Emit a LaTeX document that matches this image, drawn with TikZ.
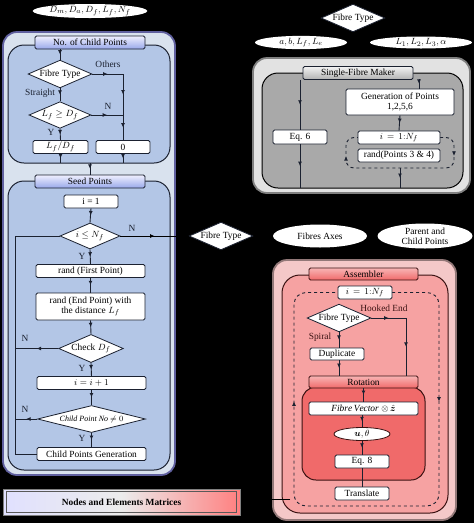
\documentclass[tikz,border=0pt]{standalone}
\usepackage{amsmath,amssymb,bm}
\usepackage{fontspec}
\setmainfont{Liberation Serif}
\usepackage{xcolor}
\usetikzlibrary{arrows.meta, shapes.geometric, positioning, calc, decorations.markings}

\definecolor{linec}{HTML}{1B2130}
\definecolor{blueout}{HTML}{D9E2EE}
\definecolor{bluein}{HTML}{B3C6E6}
\definecolor{grayout}{HTML}{E2E2E2}
\definecolor{grayin}{HTML}{A9A9A9}
\definecolor{pinkout}{HTML}{F4C8C8}
\definecolor{pinkin}{HTML}{F6A2A2}
\definecolor{redin}{HTML}{F06A6A}
\definecolor{darkred}{HTML}{3A1212}

\tikzset{
  midarr/.style={postaction={decorate,decoration={markings,
      mark=at position 0.5 with {\arrow{Latex[length=4.5pt,width=4pt]}}}}},
  loopmarks/.style 2 args={postaction={decorate,decoration={markings,
      mark=at position #1 with {\arrow{Latex[length=4.5pt,width=4pt]}},
      mark=at position #2 with {\arrow{Latex[length=4.5pt,width=4pt]}}}}},
  link/.style={draw=linec, line width=0.9},
  dashloop/.style={draw=linec, line width=0.9, dashed, rounded corners=8},
  box/.style={draw=linec, fill=white, rounded corners=1.5, line width=0.8,
      minimum height=13, inner sep=1},
  decision/.style={shape=diamond, draw=linec, fill=white, line width=0.8,
      inner sep=0.5, aspect=2.3},
  inell/.style={ellipse, fill=white, inner sep=0},
  titlebar/.style={draw=linec, line width=0.8, rounded corners=1.5,
      minimum height=13, minimum width=110, inner sep=0},
  bluebar/.style={titlebar, top color=blue!6!white, bottom color=bluein!85!blue},
  graybar/.style={titlebar, top color=white!95!black, bottom color=grayin!90!white},
  pinkbar/.style={titlebar, draw=darkred, top color=pinkin!80!white, bottom color=redin},
  outerbox/.style={line width=1.8, rounded corners=14},
  innerbox/.style={line width=1, rounded corners=16},
  lbl/.style={inner sep=1, text=linec}
}

\begin{document}
\begin{tikzpicture}[x=1pt, y=-1pt, font=\fontsize{9.4}{10}\selectfont]

  \fill[black] (0,0) rectangle (474,523);
  \useasboundingbox (0,0) rectangle (474,523);

  % inputs
  \node[inell, minimum width=106, minimum height=14] (inputs) at (90,11) {$D_m, D_a, D_f, L_f, N_f$};
  \node[decision, minimum width=54, minimum height=27] (fttop) at (353,18) {Fibre Type};
  \node[inell, minimum width=92, minimum height=12] (abpar) at (301,42.5) {$a, b, L_f, L_e$};
  \node[inell, minimum width=102, minimum height=12] (lpar) at (421,42.5) {$L_1, L_2, L_3, \alpha$};

  % left block
  \draw[outerbox, draw=gray!75!blue, fill=blueout] (3,32) rectangle (175,475);
  \draw[innerbox, draw=linec, fill=bluein] (8,45) rectangle (170,163);
  \draw[innerbox, draw=linec, fill=bluein] (8,181) rectangle (170,470);

  \node[bluebar] (childtitle) at (90,42.5) {No. of Child Points};
  \node[decision, minimum width=62, minimum height=26] (ftchild) at (60,74) {Fibre Type};
  \node[decision, minimum width=62, minimum height=26] (lfdiam) at (60,115) {$L_f \geq D_f$};
  \node[box, minimum width=55] (lfdf) at (60.5,147) {$L_f/D_f$};
  \node[box, minimum width=54] (zero) at (123,147) {0};
  \coordinate (childbot) at (90,163);

  \node[lbl] at (108,64) {Others};
  \node[lbl] at (40,93) {Straight};
  \node[lbl] at (108,106) {N};
  \node[lbl] at (51,132) {Y};

  \draw[link, midarr] (childtitle.south -| ftchild.north) -- (ftchild.north);
  \draw[link, midarr] (ftchild.south) -- (lfdiam.north);
  \draw[link, midarr] (lfdiam.south) -- (lfdf.north);
  \draw[link, midarr] (ftchild.east) -- (ftchild.east -| zero.north);
  \draw[link, midarr] (ftchild.east -| zero.north) -- (lfdiam.east -| zero.north);
  \draw[link, midarr] (lfdiam.east -| zero.north) -- (zero.north);
  \draw[link, midarr] (lfdiam.east) -- (lfdiam.east -| zero.north);
  \draw[link, midarr] (lfdf.south) -- (lfdf.south |- childbot);
  \draw[link, midarr] (zero.south) -- (zero.south |- childbot);

  \node[bluebar] (seedtitle) at (90,181.5) {Seed Points};
  \draw[link, midarr] (childbot) -- (seedtitle.north);

  \node[box, minimum width=54] (ione) at (91,201.5) {i = 1};
  \node[decision, minimum width=60, minimum height=26] (idiam) at (90,236) {$i \leq N_f$};
  \node[box, minimum width=109] (firstp) at (90.5,271) {rand (First Point)};
  \node[box, minimum width=109, minimum height=27, align=center] (endp) at (90.5,306.5)
      {rand (End Point) with\\ the distance $L_f$};
  \node[decision, minimum width=62, minimum height=27] (checkd) at (91,348.5) {Check $D_f$};
  \node[box, minimum width=109] (incr) at (91.5,383) {$i = i + 1$};
  \node[decision, minimum width=108, minimum height=27, aspect=4, inner sep=0,
      font=\fontsize{8}{9}\selectfont\itshape] (childno) at (91.5,419) {Child Point No $\neq 0$};
  \node[box, minimum width=109] (childgen) at (91.5,454) {Child Points Generation};
  \coordinate (loopbot) at (15,454);
  \coordinate (looptop) at (15,236);

  \node[lbl] at (82,256) {Y};
  \node[lbl] at (82,368) {Y};
  \node[lbl] at (82,438) {Y};
  \node[lbl] at (132,228) {N};
  \node[lbl] at (25,338) {N};
  \node[lbl] at (25,409) {N};

  \draw[link, midarr] (ione.south) -- (idiam.north);
  \draw[link, midarr] (idiam.south) -- (firstp.north);
  \draw[link, midarr] (firstp.south) -- (endp.north);
  \draw[link, midarr] (endp.south) -- (checkd.north);
  \draw[link, midarr] (checkd.south) -- (incr.north);
  \draw[link, midarr] (incr.south) -- (childno.north);
  \draw[link, midarr] (childno.south) -- (childgen.north);
  \draw[link, midarr] (checkd.west) -- (checkd.west -| looptop);
  \draw[link, midarr] (childno.west) -- (childno.west -| looptop);
  \draw[link] (childgen.west) -- (loopbot) -- (looptop) -- (idiam.west);

  % middle
  \node[decision, minimum width=58, minimum height=27] (ftmid) at (221,236) {Fibre Type};
  \node[inell, minimum width=94, minimum height=23] (axes) at (320,236) {Fibres Axes};
  \node[inell, minimum width=95, minimum height=25, align=center] (parents) at (425,236)
      {Parent and\\ Child Points};
  \draw[link, draw=black, midarr] (idiam.east) -- (ftmid.west);

  % single-fibre maker
  \draw[outerbox, draw=gray, fill=grayout] (253,58) rectangle (470,193);
  \draw[innerbox, draw=black, fill=grayin] (262,73) rectangle (463,188);
  \node[graybar] (sfm) at (358,73) {Single-Fibre Maker};
  \node[box, minimum width=54, minimum height=14] (eqsix) at (300,137) {Eq. 6};
  \node[box, minimum width=108, minimum height=26, align=center] (genp) at (400,102)
      {Generation of Points\\ 1,2,5,6};
  \coordinate (sfmbot) at (358,188);
  \coordinate (sfmright) at (419,79);
  \coordinate (sfmloop) at (400,168);

  \draw[dashloop, loopmarks={0.16}{0.85}] (440,137.5) -- (454,137.5) -- (454,168)
      -- (346,168) -- (346,137.5) -- (358,137.5);
  \node[box, minimum width=82] (iloop) at (399,137.5) {$i\,=\,1{:}N_f$};
  \node[box, minimum width=82] (randp) at (399,155.5) {rand(Points 3 \& 4)};

  \draw[link, midarr] (sfm.south -| eqsix.north) -- (eqsix.north);
  \draw[link, midarr] (eqsix.south) -- (eqsix.south |- sfmbot);
  \draw[link, midarr] (sfmright) -- (sfmright |- genp.north);
  \draw[link, midarr] (genp.south) -- (iloop.north);
  \draw[link, midarr] (sfmloop) -- (sfmloop |- sfmbot);

  % assembler
  \draw[outerbox, draw=pinkout!60!black, fill=pinkout] (273,260) rectangle (456,520);
  \draw[innerbox, rounded corners=18, draw=darkred, fill=pinkin] (282,275) rectangle (448,513);
  \node[pinkbar, minimum width=109, minimum height=12] (asm) at (363.5,274) {Assembler};
  \draw[dashloop, rounded corners=12, loopmarks={0.235}{0.77}] (392,292.5) -- (439,292.5)
      -- (439,506) -- (294,506) -- (294,292.5) -- (338,292.5);
  \node[box, minimum width=54] (aloop) at (365,292.5) {$i\,=\,1{:}N_f$};
  \node[decision, minimum width=62, minimum height=27] (ftasm) at (339,318) {Fibre Type};
  \node[box, minimum width=54, minimum height=12] (dupl) at (337,354) {Duplicate};
  \coordinate (hooked) at (406,318);

  \draw[innerbox, rounded corners=14, draw=darkred, fill=redin] (302,387) rectangle (425,480);
  \node[pinkbar, minimum width=109, minimum height=12] (rot) at (363.5,382) {Rotation};
  \node[box, minimum width=109] (fvec) at (363.5,408.5)
      {$\mathit{Fibre\,Vector}\;{\otimes}\,\bm{\hat{z}}$};
  \node[inell, draw=darkred, line width=0.8, minimum width=56, minimum height=13] (uth)
      at (362,434) {$\bm u, \theta$};
  \node[box, minimum width=54] (eqeight) at (362,461.5) {Eq. 8};
  \node[box, minimum width=54] (transl) at (362,493.5) {Translate};
  \coordinate (asmin) at (290,499);

  \node[lbl, text=darkred] at (384,308) {Hooked End};
  \node[lbl, text=darkred] at (320,337) {Spiral};

  \draw[link, midarr] (ftasm.east) -- (hooked);
  \draw[link, midarr] (hooked) -- (hooked |- rot.north);
  \draw[link, midarr] (ftasm.south) -- (ftasm.south |- dupl.north);
  \draw[link, midarr] (ftasm.south |- dupl.south) -- (ftasm.south |- rot.north);
  \draw[link, midarr] (rot.south) -- (rot.south |- fvec.north);
  \draw[link, midarr] (fvec.south -| uth.north) -- (uth.north);
  \draw[link, midarr] (uth.south) -- (eqeight.north);
  \draw[link] (eqeight.south) -- (transl.north);

  % output
  \node[draw=gray, line width=1, minimum width=237, minimum height=26, inner sep=0,
      left color=blue!12!white, right color=red!50!white, middle color=gray!15!white]
      (mats) at (121.5,502) {\textbf{Nodes and Elements Matrices}};
  \draw[gray!70!black, line width=0.6] ([shift={(4,3)}]mats.north west)
      rectangle ([shift={(-4,-3)}]mats.south east);
  \draw[link, draw=black] (asmin) -- (asmin -| mats.east);

\end{tikzpicture}
\end{document}
